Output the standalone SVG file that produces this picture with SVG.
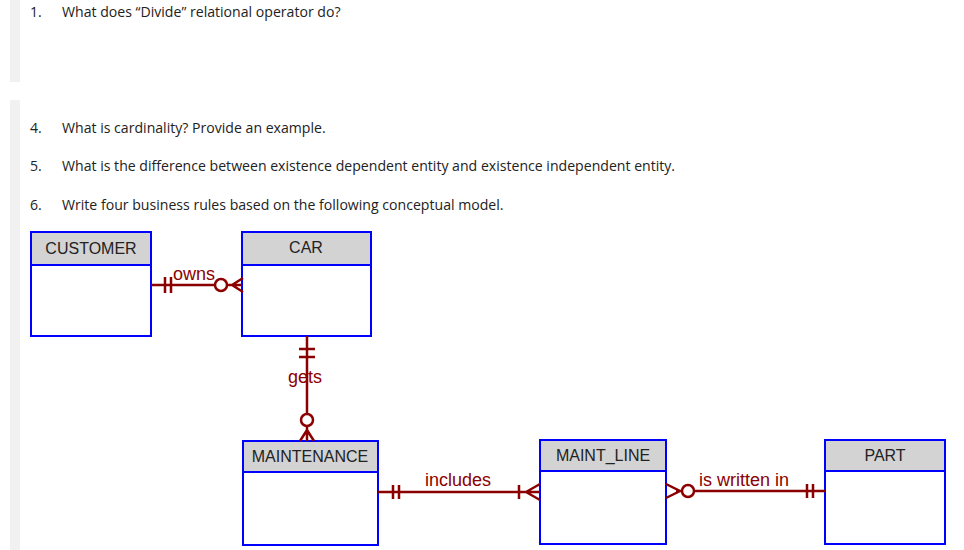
<svg xmlns="http://www.w3.org/2000/svg" width="964" height="550" viewBox="0 0 964 550">
<style>
.q{font-family:"Open Sans","Liberation Sans",sans-serif;font-size:14.1px;fill:#222}
.box{fill:#fff;stroke:#0000ff;stroke-width:2}
.hd{fill:#d3d3d3;stroke:#0000ff;stroke-width:2}
.nm{font-family:"Liberation Sans",Arial,sans-serif;font-size:16px;fill:#222;text-anchor:middle}
.ln{stroke:#8b0000;stroke-width:2.5;fill:none}
.lb{font-family:"Liberation Sans",Arial,sans-serif;font-size:18px;fill:#8b0000}
</style>
<rect width="964" height="550" fill="#fff"/>
<rect x="10" y="0" width="10" height="82" fill="#f1f1f1"/>
<rect x="10" y="100" width="10" height="450" fill="#f1f1f1"/>
<text class="q" x="30" y="17">1.</text><text class="q" x="62" y="17">What does “Divide” relational operator do?</text>
<text class="q" x="30" y="133">4.</text><text class="q" x="62" y="133">What is cardinality? Provide an example.</text>
<text class="q" x="30" y="171">5.</text><text class="q" x="62" y="171">What is the difference between existence dependent entity and existence independent entity.</text>
<text class="q" x="30" y="210">6.</text><text class="q" x="62" y="210">Write four business rules based on the following conceptual model.</text>
<g id="customer"><rect class="box" x="31" y="232" width="120" height="104"/><rect class="hd" x="31" y="232" width="120" height="33"/><text class="nm" x="91" y="254">CUSTOMER</text></g>
<g id="car"><rect class="box" x="242" y="232" width="129" height="104"/><rect class="hd" x="242" y="232" width="129" height="33"/><text class="nm" x="306" y="253">CAR</text></g>
<g id="maintenance"><rect class="box" x="243" y="441" width="135" height="104"/><rect class="hd" x="243" y="441" width="135" height="31"/><text class="nm" x="310" y="462">MAINTENANCE</text></g>
<g id="maint_line"><rect class="box" x="540" y="440" width="126" height="104"/><rect class="hd" x="540" y="440" width="126" height="31"/><text class="nm" x="603" y="461">MAINT_LINE</text></g>
<g id="part"><rect class="box" x="825" y="440" width="120" height="104"/><rect class="hd" x="825" y="440" width="120" height="31"/><text class="nm" x="885" y="461">PART</text></g>
<g id="connectors">
<path class="ln" d="M151 285H215M165 277V293M171 277V293M227 285H242M232 285L243 278M232 285L243 292"/>
<circle class="ln" cx="221" cy="285" r="6"/>
<text class="lb" x="173" y="280">owns</text>
<path class="ln" d="M307 336V413M299 349H315M299 357H315M307 426V441M307 430L300 441M307 430L314 441"/>
<circle class="ln" cx="307" cy="420" r="6"/>
<text class="lb" x="288" y="383">gets</text>
<path class="ln" d="M378 492H540M393 485V499M399 485V499M519 485V499M526 492L540 484M526 492L540 500"/>
<text class="lb" x="425" y="486">includes</text>
<path class="ln" d="M666 484L680 491L666 498M676 491H682M694 491H825M807 484V498M813 484V498"/>
<circle class="ln" cx="688" cy="491" r="6"/>
<text class="lb" x="699" y="486">is written in</text>
</g>
</svg>
